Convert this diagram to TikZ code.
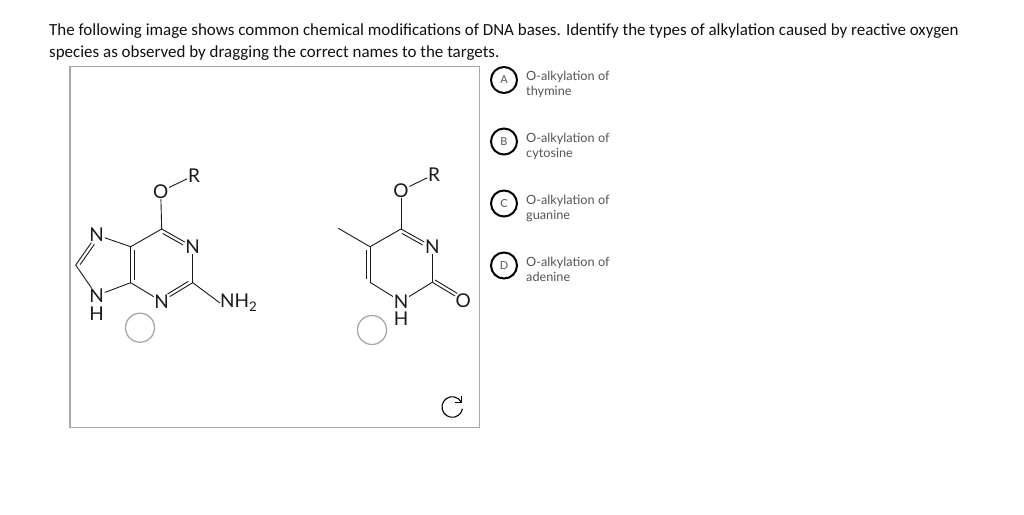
\documentclass[tikz,border=0pt]{standalone}
\usepackage{fontspec}
\setmainfont{Lato}
\newfontfamily\promptfont{Carlito}
\usetikzlibrary{calc}
\definecolor{txt}{HTML}{111111}
\definecolor{lbl}{HTML}{555555}
\definecolor{bond}{HTML}{1A1A1A}
\definecolor{frame}{HTML}{A8A8A8}
\tikzset{
  atom/.style={inner sep=0.6pt,text=bond,font=\fontsize{19}{19}\selectfont},
  bondline/.style={draw=bond,line width=0.9pt},
  prompt/.style={anchor=west,inner sep=0pt,text=txt,font=\promptfont\fontsize{16.96}{17}\selectfont},
  choicecircle/.style={circle,draw=black,line width=2pt,fill=white,minimum size=26pt,inner sep=0pt,text=lbl,font=\fontsize{11}{11}\selectfont},
  choicetext/.style={anchor=west,inner sep=0pt,text=lbl,align=left,font=\fontsize{12.7}{15}\selectfont},
  target/.style={circle,draw=frame,line width=1.3pt,fill=white,minimum size=29pt,inner sep=0pt}
}
\newcommand{\dblstroke}[5]{\path ($(#1)!#3pt!90:(#2)$) coordinate (tmpa) ($(#2)!#3pt!-90:(#1)$) coordinate (tmpb);
  \draw[bondline,shorten <=#4pt,shorten >=#5pt] (tmpa) -- (tmpb);}
\begin{document}
\begin{tikzpicture}[x=1pt,y=-1pt]
\useasboundingbox[fill=white] (0,0) rectangle (1024,514);
\node[prompt] (line1) at (49,31.5) {The following image shows common chemical modifications of DNA bases. Identify the types of alkylation caused by reactive oxygen};
\node[prompt] (line2) at (49,53.5) {species as observed by dragging the correct names to the targets.};
\coordinate (fa) at (70,66); \coordinate (fb) at (479.5,66); \coordinate (fc) at (479.5,427.5); \coordinate (fd) at (70,427.5);
\draw[frame,line width=0.9pt] (fa) -- (fb) -- (fc) -- (fd);
\draw[frame,line width=2pt] (fd) -- (fa);
\node[atom] (gR) at (194,175.5) {R};
\node[atom] (gO) at (160.7,191.5) {O};
\coordinate (gC6) at (161.7,229);
\node[atom] (gN1) at (192.7,246.5) {N};
\coordinate (gC2) at (192.7,282.7);
\node[atom,anchor=west,inner sep=0pt] (gNH) at (220,303) {NH\textsubscript{2}};
\node[atom] (gN3) at (161.7,301.5) {N};
\coordinate (gC4) at (130.7,282.7);
\coordinate (gC5) at (130.7,246.7);
\node[atom] (gN7) at (96.7,235) {N};
\coordinate (gC8) at (75.7,265);
\node[atom] (gN9) at (96.7,295.5) {N};
\node[atom] (gH) at (96.7,313.3) {H};
\draw[bondline] (gO) -- (gR);
\draw[bondline] (gO) -- (gC6);
\draw[bondline] (gC6) -- (gN1);
\draw[bondline] (gN1) -- (gC2);
\draw[bondline] (gC2) -- (gNH.west);
\draw[bondline] (gC2) -- (gN3);
\draw[bondline] (gN3) -- (gC4);
\draw[bondline] (gC4) -- (gC5);
\draw[bondline] (gC5) -- (gC6);
\draw[bondline] (gC5) -- (gN7);
\draw[bondline] (gN7) -- (gC8);
\draw[bondline] (gC8) -- (gN9);
\draw[bondline] (gN9) -- (gC4);
\dblstroke{gC6}{gN1}{-3.4}{3}{9}
\dblstroke{gC4}{gC5}{-3.4}{3}{3}
\dblstroke{gC2}{gN3}{-3.4}{3}{9}
\dblstroke{gN7}{gC8}{3.4}{9}{3}
\node[target] (t1) at (140,327.7) {};
\node[atom] (tR) at (434,174.5) {R};
\node[atom] (tO) at (401,190.5) {O};
\coordinate (tC4) at (401,229);
\node[atom] (tN3) at (432.3,246.5) {N};
\coordinate (tC2) at (432.3,282.3);
\node[atom] (tO2) at (463.3,301) {O};
\node[atom] (tN1) at (401,301.5) {N};
\node[atom] (tH) at (401,318.3) {H};
\coordinate (tC6) at (370,282.3);
\coordinate (tC5) at (370,246.7);
\coordinate (tMe) at (338.3,228.3);
\draw[bondline] (tO) -- (tR);
\draw[bondline] (tO) -- (tC4);
\draw[bondline] (tC4) -- (tN3);
\draw[bondline] (tN3) -- (tC2);
\draw[bondline] (tC2) -- (tO2);
\draw[bondline] (tC2) -- (tN1);
\draw[bondline] (tN1) -- (tC6);
\draw[bondline] (tC6) -- (tC5);
\draw[bondline] (tC5) -- (tC4);
\draw[bondline] (tC5) -- (tMe);
\dblstroke{tC4}{tN3}{-3.4}{3}{9}
\dblstroke{tC2}{tO2}{3.4}{1}{9}
\dblstroke{tC6}{tC5}{3.4}{3}{3}
\node[target] (t2) at (372,330) {};
\draw[black,line width=1.1pt] (452.3,407) ++(10:10.3) arc[start angle=10,end angle=335,radius=10.3];
\coordinate (ra) at (461.6,396); \coordinate (rb) at (461.6,402.6); \coordinate (rc) at (455,402.6);
\draw[black,line width=1.1pt] (ra) -- (rb) -- (rc);
\foreach \n/\l/\y/\a/\b in {ca/A/80/thymine/76, cb/B/141.5/cytosine/138, cc/C/203.5/guanine/200, cd/D/265.5/adenine/261}{
  \node[choicecircle] (\n) at (504,\y) {\l};
  \node[choicetext] (\n t) at (526,\b+8.8) {O-alkylation of\\\a};
}
\end{tikzpicture}
\end{document}
